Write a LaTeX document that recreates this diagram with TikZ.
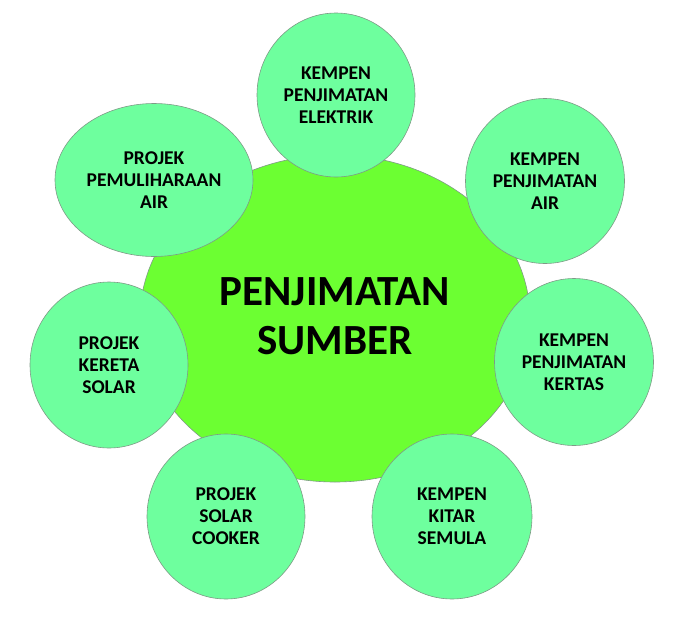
\documentclass[tikz,border=0pt]{standalone}
\usepackage{fontspec}
\setmainfont{Carlito}
\usetikzlibrary{shapes.geometric}
\definecolor{mint}{HTML}{6EFF9E}
\definecolor{lime}{HTML}{6CFF32}
\definecolor{edge}{HTML}{7E9A86}
\tikzset{
  bubble/.style={ellipse, inner sep=0pt, fill=mint, draw=edge, line width=0.6pt,
    align=center, font=\fontsize{19.5}{22}\selectfont\bfseries},
  hub/.style={ellipse, inner sep=0pt, fill=lime, draw=edge, line width=0.6pt,
    align=center, font=\fontsize{43}{49}\selectfont\bfseries}
}
\begin{document}
\begin{tikzpicture}[x=1pt,y=-1pt]
\useasboundingbox (0,0) rectangle (680,624);
\node[hub, minimum width=390pt, minimum height=327pt] (hub) at (335,318.5) {PENJIMATAN\\SUMBER\rule[-5pt]{0pt}{0pt}};
\node[bubble, minimum width=198pt, minimum height=153pt] (pemuliharaan) at (154,180) {PROJEK\\PEMULIHARAAN\\AIR};
\node[bubble, minimum width=158pt, minimum height=164pt] (elektrik) at (336,95) {KEMPEN\\PENJIMATAN\\ELEKTRIK};
\node[bubble, minimum width=159pt, minimum height=165pt] (air) at (545,181) {KEMPEN\\PENJIMATAN\\AIR};
\node[bubble, minimum width=158pt, minimum height=166pt] (kereta) at (109,365) {PROJEK\\KERETA\\SOLAR};
\node[bubble, minimum width=159pt, minimum height=167pt] (kertas) at (574,362) {KEMPEN\\PENJIMATAN\\KERTAS};
\node[bubble, minimum width=158pt, minimum height=165pt] (cooker) at (226,516.5) {PROJEK\\SOLAR\\COOKER};
\node[bubble, minimum width=160pt, minimum height=165pt] (kitar) at (452,516.5) {KEMPEN\\KITAR\\SEMULA};
\end{tikzpicture}
\end{document}
